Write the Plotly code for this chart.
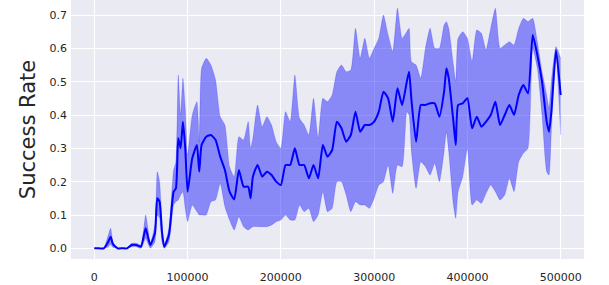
import plotly.graph_objects as go

# training steps (x) and success-rate statistics
steps = [0, 5000, 10000, 15000, 17500, 20000, 25000, 30000, 35000, 40000, 45000, 50000,
         55000, 57500, 60000, 65000, 67500, 70000, 72500, 75000, 80000, 85000, 87500,
         90000, 92500, 95000, 97500, 100000, 105000, 110000, 112500, 115000, 120000,
         125000, 130000, 135000, 140000, 145000, 150000, 155000, 160000, 165000, 167500,
         170000, 175000, 180000, 185000, 190000, 195000, 200000, 205000, 210000, 215000,
         220000, 225000, 230000, 235000, 240000, 245000, 250000, 255000, 260000, 265000,
         270000, 275000, 280000, 285000, 290000, 295000, 300000, 305000, 310000, 315000,
         320000, 325000, 330000, 335000, 337500, 340000, 345000, 350000, 355000, 360000,
         365000, 370000, 375000, 377500, 380000, 385000, 387500, 390000, 395000, 400000,
         405000, 410000, 415000, 420000, 425000, 430000, 435000, 440000, 445000, 450000,
         455000, 460000, 465000, 470000, 475000, 480000, 485000, 487500, 490000, 495000,
         500000]

mean = [0, 0, 0, 0.02, 0.035, 0.012, 0, 0, 0, 0.01, 0.01, 0.005,
        0.06, 0.035, 0.01, 0.045, 0.15, 0.14, 0.05, 0.005, 0.04, 0.17, 0.18,
        0.33, 0.30, 0.38, 0.30, 0.17, 0.27, 0.31, 0.23, 0.31, 0.335,
        0.34, 0.325, 0.275, 0.235, 0.17, 0.147, 0.235, 0.185, 0.185, 0.15,
        0.215, 0.25, 0.215, 0.23, 0.22, 0.20, 0.19, 0.25, 0.25, 0.30,
        0.25, 0.25, 0.21, 0.25, 0.21, 0.31, 0.275, 0.295, 0.38, 0.36,
        0.32, 0.34, 0.41, 0.35, 0.37, 0.37, 0.38, 0.41, 0.47, 0.45,
        0.38, 0.48, 0.43, 0.50, 0.53, 0.445, 0.32, 0.43, 0.43, 0.435,
        0.435, 0.395, 0.47, 0.54, 0.51, 0.38, 0.31, 0.43, 0.435, 0.45,
        0.36, 0.395, 0.365, 0.38, 0.40, 0.44, 0.37, 0.40, 0.43, 0.40,
        0.46, 0.49, 0.465, 0.64, 0.58, 0.50, 0.38, 0.35, 0.41, 0.595,
        0.46]

upper = [0, 0, 0, 0.04, 0.06, 0.02, 0, 0, 0, 0.015, 0.015, 0.01,
         0.10, 0.06, 0.015, 0.07, 0.23, 0.20, 0.08, 0.01, 0.06, 0.235, 0.26,
         0.52, 0.40, 0.51, 0.42, 0.28, 0.40, 0.44, 0.32, 0.54, 0.57,
         0.55, 0.505, 0.395, 0.37, 0.245, 0.215, 0.335, 0.325, 0.38, 0.30,
         0.33, 0.43, 0.365, 0.395, 0.37, 0.32, 0.30, 0.41, 0.38, 0.52,
         0.39, 0.37, 0.34, 0.45, 0.33, 0.45, 0.44, 0.46, 0.53, 0.55,
         0.53, 0.535, 0.66, 0.57, 0.63, 0.57, 0.60, 0.63, 0.70, 0.64,
         0.59, 0.72, 0.63, 0.65, 0.66, 0.56, 0.55, 0.51, 0.60, 0.66,
         0.60, 0.60, 0.67, 0.68, 0.66, 0.55, 0.50, 0.63, 0.65, 0.63,
         0.56, 0.655, 0.645, 0.595, 0.66, 0.72, 0.60, 0.61, 0.62, 0.61,
         0.66, 0.69, 0.68, 0.69, 0.62, 0.53, 0.46, 0.42, 0.50, 0.605,
         0.57]

lower = [0, 0, 0, 0.005, 0.012, 0.003, 0, 0, 0, 0.005, 0.005, 0.0,
         0.03, 0.015, 0.0, 0.02, 0.10, 0.09, 0.02, 0.0, 0.02, 0.13, 0.14,
         0.145, 0.16, 0.17, 0.12, 0.08, 0.13, 0.11, 0.10, 0.10, 0.10,
         0.14, 0.145, 0.195, 0.125, 0.085, 0.055, 0.095, 0.065, 0.055, 0.06,
         0.065, 0.065, 0.065, 0.065, 0.07, 0.08, 0.085, 0.10, 0.085, 0.085,
         0.13, 0.11, 0.12, 0.08, 0.10, 0.17, 0.11, 0.12, 0.20, 0.20,
         0.16, 0.11, 0.14, 0.13, 0.13, 0.12, 0.15, 0.19, 0.20, 0.25,
         0.165, 0.25, 0.245, 0.41, 0.40, 0.29, 0.18, 0.26, 0.245, 0.22,
         0.255, 0.20, 0.29, 0.35, 0.29, 0.13, 0.09, 0.17, 0.215, 0.30,
         0.13, 0.145, 0.135, 0.165, 0.19, 0.17, 0.145, 0.16, 0.21, 0.17,
         0.26, 0.285, 0.30, 0.60, 0.54, 0.40, 0.23, 0.22, 0.35, 0.58,
         0.34]

x_ticks = [0, 100000, 200000, 300000, 400000, 500000]
y_ticks = [0.0, 0.1, 0.2, 0.3, 0.4, 0.5, 0.6, 0.7]

band_color = "rgba(0,0,255,0.42)"
edge_color = "rgba(0,0,255,0.22)"

fig = go.Figure()
fig.add_trace(go.Scatter(x=steps, y=lower, mode="lines",
                         line=dict(width=0, shape="spline", smoothing=0.5),
                         hoverinfo="skip", showlegend=False))
fig.add_trace(go.Scatter(x=steps, y=upper, mode="lines", fill="tonexty",
                         fillcolor=band_color,
                         line=dict(width=0.8, color=edge_color, shape="spline", smoothing=0.5),
                         hoverinfo="skip", showlegend=False))
fig.add_trace(go.Scatter(x=steps, y=lower, mode="lines",
                         line=dict(width=0.8, color=edge_color, shape="spline", smoothing=0.5),
                         hoverinfo="skip", showlegend=False))
fig.add_trace(go.Scatter(x=steps, y=mean, mode="lines",
                         line=dict(width=2, color="#0000FF", shape="spline", smoothing=0.5),
                         showlegend=False))

axis_font = dict(family="DejaVu Sans", size=11, color="#262626")
fig.update_layout(
    width=609, height=285,
    margin=dict(l=71, r=25, t=0, b=26),
    paper_bgcolor="white",
    plot_bgcolor="#EAEAF2",
    xaxis=dict(range=[-25000, 525000], tickvals=x_ticks,
               ticktext=[str(v) for v in x_ticks],
               showgrid=True, gridcolor="white", gridwidth=1,
               zeroline=False, showline=False, ticks="",
               ticklabelstandoff=10,
               tickfont=axis_font),
    yaxis=dict(range=[-0.032, 0.745], tickvals=y_ticks,
               ticktext=["%.1f" % v for v in y_ticks],
               showgrid=True, gridcolor="white", gridwidth=1,
               zeroline=False, showline=False, ticks="",
               ticklabelstandoff=3,
               tickfont=axis_font,
               title=dict(text="Success Rate",
                          font=dict(family="DejaVu Sans", size=21, color="#262626"),
                          standoff=8)),
)

fig.write_html("out.html")
